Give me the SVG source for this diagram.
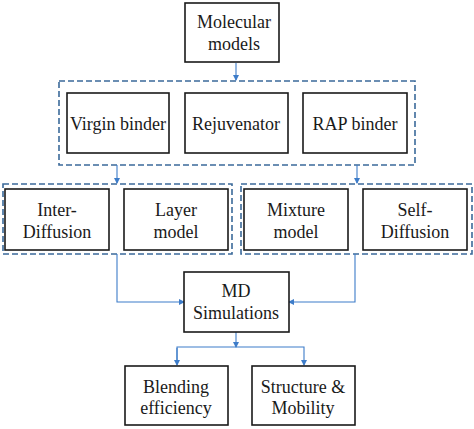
<svg xmlns="http://www.w3.org/2000/svg" width="474" height="429" viewBox="0 0 474 429">
<defs>
<marker id="ah" markerWidth="6" markerHeight="6" refX="5" refY="3" orient="auto" markerUnits="userSpaceOnUse">
<path d="M0,0 L6,3 L0,6 Z" fill="#3d7cc9"/>
</marker>
<style>
.box{fill:#fff;stroke:#1a1a1a;stroke-width:1.6}
.grp{fill:none;stroke:#3b6a9a;stroke-width:1.6;stroke-dasharray:6 3}
.con{fill:none;stroke:#3d7cc9;stroke-width:1.1;marker-end:url(#ah)}
svg text, text.lb{font-family:'Liberation Serif',serif !important;font-size:18px;fill:#1a1a1a;text-anchor:middle}
</style>
</defs>
<rect width="474" height="429" fill="#fff"/>
<g id="groups">
<rect id="g-inputs" class="grp" x="59" y="81" width="356" height="84"/>
<rect id="g-left" class="grp" x="3" y="184" width="229" height="70"/>
<rect id="g-right" class="grp" x="241" y="184" width="231" height="70"/>
</g>
<g id="connectors">
<path class="con" d="M236,63 V80"/>
<path class="con" d="M117,165 V183"/>
<path class="con" d="M357,165 V183"/>
<path class="con" d="M117,254 V302 H184"/>
<path class="con" d="M355,254 V302 H289"/>
<path class="con" d="M236,332 V347"/>
<path class="con" d="M177,361 V347 H304 V365"/>
<path class="con" d="M177,348 V365"/>
</g>
<g fill="#1a1a1a" text-anchor="middle" font-size="18">
<g id="n-molecular"><rect class="box" x="185" y="3" width="94" height="59"/><text class="lb" font-family="'Liberation Serif'" x="234" y="28">Molecular</text><text class="lb" font-family="'Liberation Serif'" x="234" y="50">models</text></g>
<g id="n-virgin"><rect class="box" x="67" y="93" width="102" height="60"/><text class="lb" font-family="'Liberation Serif'" x="118" y="130">Virgin binder</text></g>
<g id="n-rejuv"><rect class="box" x="185" y="93" width="103" height="60"/><text class="lb" font-family="'Liberation Serif'" x="236" y="130">Rejuvenator</text></g>
<g id="n-rap"><rect class="box" x="303" y="93" width="104" height="60"/><text class="lb" font-family="'Liberation Serif'" x="355" y="130">RAP binder</text></g>
<g id="n-inter"><rect class="box" x="5" y="189" width="104" height="61"/><text class="lb" font-family="'Liberation Serif'" x="57" y="216">Inter-</text><text class="lb" font-family="'Liberation Serif'" x="57" y="238">Diffusion</text></g>
<g id="n-layer"><rect class="box" x="124" y="189" width="104" height="61"/><text class="lb" font-family="'Liberation Serif'" x="176" y="216">Layer</text><text class="lb" font-family="'Liberation Serif'" x="176" y="238">model</text></g>
<g id="n-mixture"><rect class="box" x="244" y="189" width="104" height="61"/><text class="lb" font-family="'Liberation Serif'" x="296" y="216">Mixture</text><text class="lb" font-family="'Liberation Serif'" x="296" y="238">model</text></g>
<g id="n-self"><rect class="box" x="363" y="189" width="104" height="61"/><text class="lb" font-family="'Liberation Serif'" x="415" y="216">Self-</text><text class="lb" font-family="'Liberation Serif'" x="415" y="238">Diffusion</text></g>
<g id="n-md"><rect class="box" x="184" y="272" width="105" height="60"/><text class="lb" font-family="'Liberation Serif'" x="236" y="297">MD</text><text class="lb" font-family="'Liberation Serif'" x="236" y="319">Simulations</text></g>
<g id="n-blend"><rect class="box" x="125" y="366" width="103" height="59"/><text class="lb" font-family="'Liberation Serif'" x="176" y="393">Blending</text><text class="lb" font-family="'Liberation Serif'" x="176" y="414">efficiency</text></g>
<g id="n-struct"><rect class="box" x="252" y="366" width="103" height="59"/><text class="lb" font-family="'Liberation Serif'" x="303" y="393">Structure &amp;</text><text class="lb" font-family="'Liberation Serif'" x="303" y="414">Mobility</text></g>
</g>
</svg>
